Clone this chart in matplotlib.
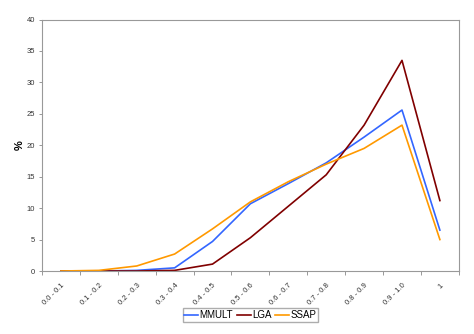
import numpy as np
import matplotlib
matplotlib.use("Agg")
import matplotlib.pyplot as plt

plt.rcParams['font.family'] = ['Liberation Sans', 'DejaVu Sans']

categories = ['0.0 - 0.1', '0.1 - 0.2', '0.2 - 0.3', '0.3 - 0.4', '0.4 - 0.5',
              '0.5 - 0.6', '0.6 - 0.7', '0.7 - 0.8', '0.8 - 0.9', '0.9 - 1.0', '1']
mmult = [0.0, 0.0, 0.1, 0.5, 4.7, 10.7, 13.9, 17.2, 21.3, 25.6, 6.5]
lga = [0.0, 0.0, 0.0, 0.1, 1.1, 5.3, 10.3, 15.3, 23.2, 33.5, 11.2]
ssap = [0.0, 0.1, 0.8, 2.7, 6.7, 11.0, 14.2, 17.0, 19.5, 23.2, 5.0]

fig = plt.figure(figsize=(4.74, 3.34), dpi=100)
ax = fig.add_axes([0.0886, 0.1886, 0.8794, 0.753])

x = np.arange(len(categories))
ax.plot(x, mmult, color='#3366FF', lw=1.2, label='MMULT')
ax.plot(x, lga, color='#800000', lw=1.2, label='LGA')
ax.plot(x, ssap, color='#FF9900', lw=1.2, label='SSAP')

ax.set_xlim(-0.5, len(categories) - 0.5)
ax.set_ylim(0, 40)
ax.set_yticks(range(0, 41, 5))
ax.tick_params(axis='y', labelsize=5.5, length=2, width=0.6, color='#888888',
               labelcolor='#333333', pad=3)

# category boundaries carry the tick marks, labels sit at the centres
ax.set_xticks(np.arange(-0.5, len(categories), 1.0))
ax.set_xticklabels([])
ax.set_xticks(x, minor=True)
ax.set_xticklabels(categories, minor=True, rotation=45, ha='right',
                   rotation_mode='anchor', fontsize=5.5, color='#333333')
ax.tick_params(axis='x', which='major', length=3, width=0.6, color='#888888')
ax.tick_params(axis='x', which='minor', length=0, pad=8)

for s in ax.spines.values():
    s.set_color('#999999')
    s.set_linewidth(0.8)

ax.set_ylabel('%', fontsize=8, fontweight='bold', labelpad=1)

ax.legend(loc='center', bbox_to_anchor=(0.5, -0.175), ncol=3, fontsize=7,
          frameon=True, fancybox=False, edgecolor='#999999', handlelength=1.4,
          handletextpad=0.15, columnspacing=0.4, borderpad=0.2, borderaxespad=0)

fig.savefig('out.png', dpi=100)
